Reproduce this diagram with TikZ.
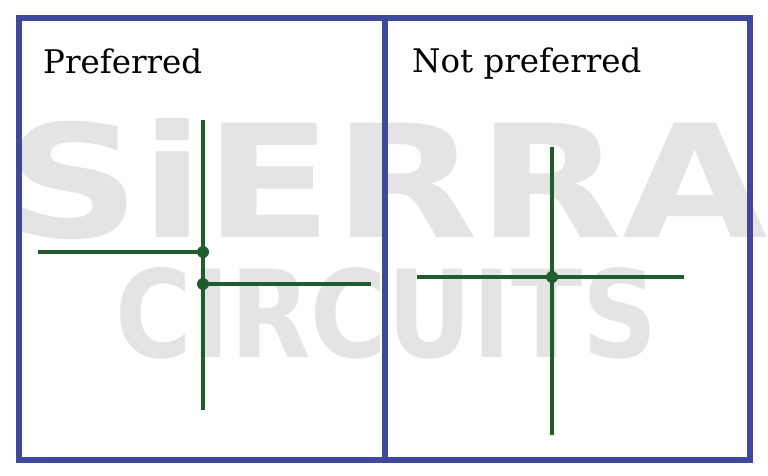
\documentclass[tikz,border=0pt]{standalone}
\usepackage{fontspec}
\newfontfamily\labelfont{DejaVu Serif}
\newfontfamily\wmfont{DejaVu Sans}
\definecolor{framecol}{HTML}{3F489C}
\definecolor{tracecol}{HTML}{215C2D}
\definecolor{wmcol}{HTML}{E4E4E4}
\tikzset{
  frame/.style={draw=framecol, line width=6.5pt},
  trace/.style={draw=tracecol, line width=3.5pt},
  joint/.style={circle, fill=tracecol, inner sep=0pt, minimum size=12pt},
  title/.style={anchor=base west, inner sep=0pt, font=\labelfont\fontsize{32.5}{36}\selectfont},
  wm/.style={anchor=north west, inner sep=0pt, text=wmcol}
}
\begin{document}
\begin{tikzpicture}[x=1pt,y=-1pt]
\useasboundingbox (0,0) rectangle (768,476);
\fill[white] (0,0) rectangle (768,476);
% watermark
\node[wm] (wm1) at (5,118) {\resizebox{762pt}{119pt}{\wmfont\bfseries SiERRA}};
\node[wm] (wm2) at (115,267) {\resizebox{542pt}{90pt}{\wmfont\bfseries CIRCUITS}};
% frame
\coordinate (tl) at (19,18);
\coordinate (br) at (750,460);
\coordinate (mt) at (385,18);
\coordinate (mb) at (385,460);
\draw[frame] (tl) rectangle (br);
\draw[frame] (mt) -- (mb);
% titles
\node[title] (t1) at (43,74) {Preferred};
\node[title] (t2) at (412,73) {Not preferred};
% left: preferred
\node[joint] (Lj1) at (203,252) {};
\node[joint] (Lj2) at (203,284) {};
\coordinate (Ltop) at (203,120);
\coordinate (Lbot) at (203,410);
\coordinate (Lw) at (38,252);
\coordinate (Le) at (371,284);
\draw[trace] (Ltop) -- (Lbot);
\draw[trace] (Lw) -- (Lj1.center);
\draw[trace] (Lj2.center) -- (Le);
% right: not preferred
\node[joint] (Rj) at (552,277) {};
\coordinate (Rtop) at (552,147);
\coordinate (Rbot) at (552,435);
\coordinate (Rw) at (417,277);
\coordinate (Re) at (684,277);
\draw[trace] (Rtop) -- (Rbot);
\draw[trace] (Rw) -- (Re);
\end{tikzpicture}
\end{document}
